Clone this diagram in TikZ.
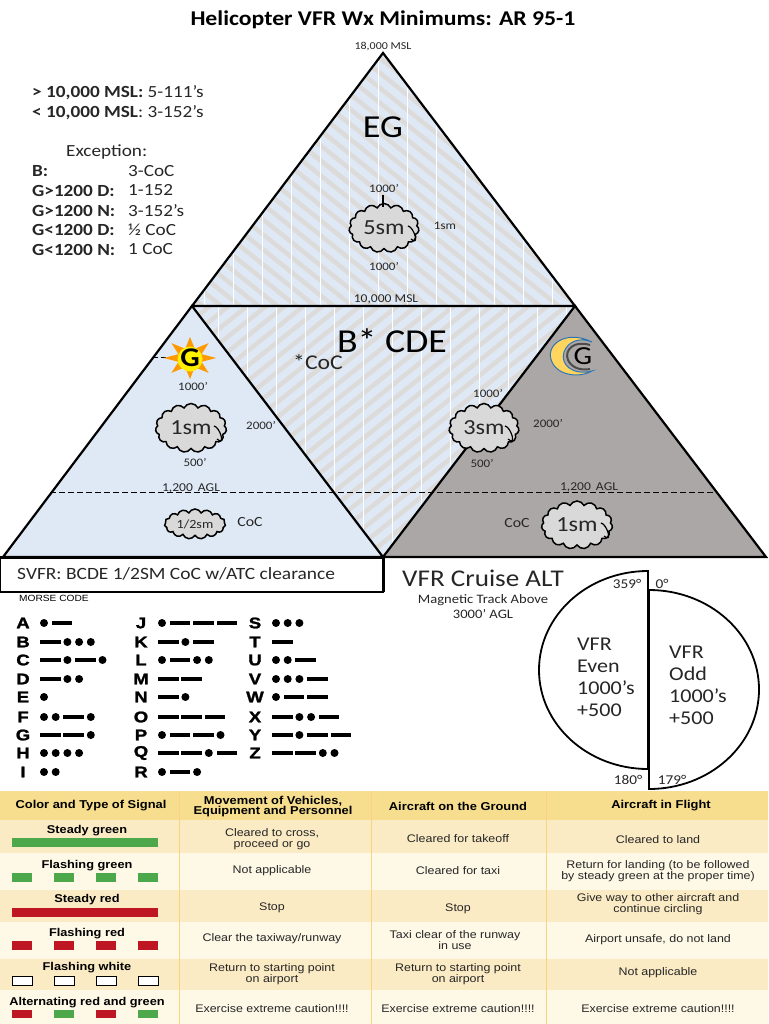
\documentclass[tikz,border=0pt]{standalone}
\usepackage{fontspec}
\setmainfont[FakeStretch=1.13]{Carlito}
\newfontfamily\tablefont[FakeStretch=1.13]{Liberation Sans}
\newfontfamily\morsefont[BoldFeatures={FakeStretch=1.2,FakeBold=1.5}]{Liberation Sans}
\usetikzlibrary{shapes.geometric,shapes.symbols}
\definecolor{skyfill}{HTML}{DEE9F5}
\definecolor{stripe}{HTML}{DCDBDA}
\definecolor{nightfill}{HTML}{ABA7A6}
\definecolor{cloudfill}{HTML}{D9D9D9}
\definecolor{headfill}{HTML}{F6DE8E}
\definecolor{rowdark}{HTML}{FBEBC5}
\definecolor{rowlight}{HTML}{FEF8E6}
\definecolor{sigred}{HTML}{BE1622}
\definecolor{siggreen}{HTML}{4CA84A}
\definecolor{moonblue}{HTML}{2F75B5}
\definecolor{moonyellow}{HTML}{FFD55F}
\newcommand{\morsecode}[4]{%
  \node[morse] (m#3) at (#1-17,#2) {#3};
  \global\def\mx{#1}
  \foreach \sym in {#4}{
    \ifnum\sym=1
      \fill (\mx+4,#2) circle (4);
    \else
      \fill (\mx,#2-2.2) rectangle (\mx+20.5,#2+2.2);
    \fi
    \pgfmathsetmacro\nx{\mx+\sym*11.7}
    \global\let\mx\nx
  }
}
\begin{document}
\begin{tikzpicture}[
    x=1pt, y=-1pt,
    tri/.style={draw=black, line width=2.2pt, line join=miter},
    altline/.style={draw=black, dash pattern=on 6pt off 3pt, line width=0.8pt},
    title/.style={font=\fontsize{21}{24}\selectfont\bfseries},
    big/.style={font=\fontsize{32}{36}\selectfont},
    lab/.style={font=\fontsize{11.5}{14}\selectfont, text=black!85},
    degree/.style={font=\fontsize{13.5}{16}\selectfont, text=black!85},
    listing/.style={font=\fontsize{17}{18}\selectfont, text=black!85, anchor=west, inner sep=0pt},
    vfr/.style={font=\fontsize{19.5}{22}\selectfont, text=black!85, anchor=north west, align=left, inner sep=0pt},
    puffy/.style={cloud, cloud puffs=15, cloud puff arc=130, cloud ignores aspect, draw=black, fill=cloudfill,
      line width=1.5pt, inner sep=0pt, font=\fontsize{21.5}{22}\selectfont, text=black!85},
    puffline/.style={draw=black, line width=1.2pt},
    morse/.style={font=\morsefont\fontsize{15.5}{18}\selectfont\bfseries, inner sep=0pt},
    cell/.style={font=\tablefont\fontsize{11}{10.5}\selectfont, align=center, inner sep=0pt, text=black!85},
    headcell/.style={cell, font=\tablefont\fontsize{11.4}{10.5}\selectfont\bfseries, text=black},
    sigcell/.style={cell, font=\tablefont\fontsize{11.3}{13}\selectfont\bfseries, text=black}
  ]
    \useasboundingbox (0,0) rectangle (768,1024);
    \coordinate (apex) at (383,53);
    \coordinate (midl) at (192,306);
    \coordinate (midr) at (575,306);
    \coordinate (basel) at (3,557);
    \coordinate (basem) at (383,557);
    \coordinate (baser) at (766,557);

    \begin{scope}
      \clip (apex) -- (midl) -- (midr) -- cycle;
      \fill[skyfill] (180,40) rectangle (590,310);
      \foreach \i in {0,...,40} {
        \draw[stripe, line width=4.5pt] (170,40+\i*15) -- ++(400,320);
        \draw[stripe, line width=4.5pt] (170+\i*18.75,40) -- ++(400,320);
      }
      \foreach \i in {0,...,14} {
        \draw[white, line width=0.6pt] (175.7+\i*29,40) -- ++(0,280);
      }
    \end{scope}
    \begin{scope}
      \clip (midl) -- (midr) -- (basem) -- cycle;
      \fill[skyfill] (180,300) rectangle (590,560);
      \foreach \i in {0,...,50} {
        \draw[stripe, line width=4.5pt] (180+\i*18.75,300) -- ++(-400,320);
      }
      \foreach \i in {0,...,14} {
        \draw[white, line width=0.6pt] (189.7+\i*29,300) -- ++(0,270);
      }
    \end{scope}
    \fill[skyfill] (midl) -- (basem) -- (basel) -- cycle;
    \fill[nightfill] (midr) -- (baser) -- (basem) -- cycle;
    \draw[altline] (50,492) -- (717,492);
    \draw[tri] (midl) -- (apex) -- (midr) -- cycle;
    \draw[tri] (midl) -- (basem) -- (basel) -- cycle;
    \draw[tri] (midr) -- (baser) -- (basem) -- cycle;

    \node[title] (heading) at (383,20) {Helicopter VFR Wx Minimums: AR 95-1};
    \node[lab, font=\fontsize{10.6}{14}\selectfont] (topalt) at (383,47) {18,000 MSL};
    \node[listing] (over) at (32,92.5) {\textbf{> 10,000 MSL:} 5-111’s};
    \node[listing] (under) at (32,112.5) {\textbf{< 10,000 MSL}: 3-152’s};
    \node[listing] (except) at (66,151.5) {Exception:};
    \foreach \n/\ly/\lname/\lval in {a/171/B:/3-CoC, b/190.5/G>1200 D:/1-152, c/210.5/G>1200 N:/3-152’s,
        d/230/G<1200 D:/½ CoC, e/249.5/G<1200 N:/1 CoC} {
      \node[listing, font=\fontsize{17}{18}\selectfont\bfseries] (key\n) at (32,\ly) {\lname};
      \node[listing] (val\n) at (128,\ly) {\lval};
    }

    \node[big] (eg) at (383,127) {EG};
    \node[big, font=\fontsize{33.5}{36}\selectfont] (cde) at (392,341) {B* CDE};
    \node[font=\fontsize{21}{22}\selectfont, text=black!85] (coc) at (318,362) {*CoC};
    \node[lab, font=\fontsize{12}{14}\selectfont] (midalt) at (386,299.5) {10,000 MSL};

    \node[puffy, minimum width=70pt, minimum height=49pt] (cfive) at (384,228) {5sm};
    \draw[puffline] (383,195) -- (383,207);
    \node[lab] (ea) at (384,188) {1000’};
    \node[lab] (eb) at (384,266) {1000’};
    \node[lab] (ec) at (445,226) {1sm};

    \draw[altline] (152,357) -- (166,357);
    \node[star, star points=8, star point ratio=2.1, minimum size=42pt, fill=orange!80!yellow,
      inner sep=0pt, xscale=1.25] (sun) at (190,358) {};
    \node[circle, fill=yellow, minimum size=25pt, inner sep=0pt] (disc) at (190,359) {};
    \node[font=\fontsize{27}{32}\selectfont\bfseries] (gday) at (190,358) {G};
    \node[lab] (la) at (193,386) {1000’};
    \node[puffy, minimum width=71pt, minimum height=49pt] (cone) at (191,428) {1sm};
    \node[lab] (lb) at (261,425) {2000’};
    \node[lab] (lc) at (195,462) {500’};
    \node[lab, font=\fontsize{12}{14}\selectfont] (ld) at (191,488.5) {1,200\,  AGL};
    \node[puffy, minimum width=61pt, minimum height=30pt, font=\fontsize{12.5}{15}\selectfont] (chalf) at (195,524) {1/2sm};
    \node[font=\fontsize{14}{16}\selectfont, text=black!85] (le) at (250,522) {CoC};

    \draw[moonblue, fill=moonyellow, line width=1pt] (592,342) .. controls (566,329) and (544,345) .. (552,362)
      .. controls (558,376) and (580,378) .. (592,371) .. controls (572,376) and (560,364) .. (564,352)
      .. controls (568,341) and (580,337) .. (592,342) -- cycle;
    \draw[black!70, line width=2pt] (590,345) .. controls (574,340) and (564,350) .. (568,360)
      .. controls (571,367) and (580,371) .. (590,369);
    \node[font=\fontsize{26}{32}\selectfont] (gnight) at (583,356) {G};
    \node[lab] (ra) at (488,393) {1000’};
    \node[puffy, minimum width=70pt, minimum height=49pt] (cthree) at (484,428) {3sm};
    \node[lab] (rb) at (548,423) {2000’};
    \node[lab] (rc) at (482,463) {500’};
    \node[lab, font=\fontsize{12}{14}\selectfont] (rd) at (589,487.5) {1,200\,  AGL};
    \node[font=\fontsize{14}{16}\selectfont, text=black!85] (re) at (517,523) {CoC};
    \node[puffy, minimum width=71pt, minimum height=48pt] (cmin) at (577,525) {1sm};
    \foreach \c/\dx in {cfive/24, cone/23, cthree/21, cmin/24} {
      \draw[puffline] (\c.center) ++(\dx,-2) .. controls ++(6,1) and ++(9,8) .. ++(3,13);
    }

    \draw[black, line width=1.2pt] (basel) ++(-3,0) rectangle (383,592);
    \draw[black, line width=3pt] (0,557) -- (383,557) -- (383,592);
    \node[font=\fontsize{17.2}{20}\selectfont, text=black!85, anchor=west, inner sep=0pt] (svfr) at (17,574)
      {SVFR: BCDE 1/2SM CoC w/ATC clearance};

    \node[font=\fontsize{24}{26}\selectfont, text=black!85] (cruise) at (483,578) {VFR Cruise ALT};
    \node[lab, align=center, font=\fontsize{12.9}{15}\selectfont] (track) at (483,606.5) {Magnetic Track Above\\3000’ AGL};
    \draw[black, line width=1.8pt, fill=white] (648,571) arc[start angle=-90, end angle=-270, x radius=109, y radius=99] -- cycle;
    \draw[black, line width=1.8pt, fill=white] (649,590) arc[start angle=-90, end angle=90, x radius=110, y radius=99.5] -- cycle;
    \node[degree] (dega) at (627,584) {359°};
    \node[degree] (degb) at (662,584) {0°};
    \node[degree] (degc) at (628,780) {180°};
    \node[degree] (degd) at (672,780) {179°};
    \node[vfr] (even) at (577,638) {VFR\\Even\\1000’s\\+500};
    \node[vfr] (odd) at (669,646) {VFR\\Odd\\1000’s\\+500};

    \node[font=\tablefont\fontsize{9}{11}\selectfont, anchor=west, inner sep=0pt] (morsehead) at (19,598) {MORSE CODE};
    \morsecode{40}{623}{A}{1,2}
    \morsecode{40}{642}{B}{2,1,1,1}
    \morsecode{40}{660}{C}{2,1,2,1}
    \morsecode{40}{679}{D}{2,1,1}
    \morsecode{40}{697}{E}{1}
    \morsecode{40}{717}{F}{1,1,2,1}
    \morsecode{40}{735}{G}{2,2,1}
    \morsecode{40}{753}{H}{1,1,1,1}
    \morsecode{40}{772}{I}{1,1}
    \morsecode{158}{623}{J}{1,2,2,2}
    \morsecode{158}{642}{K}{2,1,2}
    \morsecode{158}{660}{L}{1,2,1,1}
    \morsecode{158}{679}{M}{2,2}
    \morsecode{158}{697}{N}{2,1}
    \morsecode{158}{717}{O}{2,2,2}
    \morsecode{158}{735}{P}{1,2,2,1}
    \morsecode{158}{753}{Q}{2,2,1,2}
    \morsecode{158}{772}{R}{1,2,1}
    \morsecode{272}{623}{S}{1,1,1}
    \morsecode{272}{642}{T}{2}
    \morsecode{272}{660}{U}{1,1,2}
    \morsecode{272}{679}{V}{1,1,1,2}
    \morsecode{272}{697}{W}{1,2,2}
    \morsecode{272}{717}{X}{2,1,1,2}
    \morsecode{272}{735}{Y}{2,1,2,2}
    \morsecode{272}{753}{Z}{2,2,1,1}

    \fill[headfill] (0,791) rectangle (768,820);
    \fill[rowdark] (0,820) rectangle (768,853);
    \fill[rowlight] (0,853) rectangle (768,890);
    \fill[rowdark] (0,890) rectangle (768,922);
    \fill[rowlight] (0,922) rectangle (768,959);
    \fill[rowdark] (0,959) rectangle (768,990);
    \fill[rowlight] (0,990) rectangle (768,1024);
    \foreach \cx in {179,371,546} {
      \draw[headfill!90!orange, line width=1pt] (\cx,791) -- (\cx,1024);
    }

    \node[headcell] (ha) at (91,806) {Color and Type of Signal};
    \node[headcell] (hb) at (273,806.5) {Movement of Vehicles,\\Equipment and Personnel};
    \node[headcell] (hc) at (458,806) {Aircraft on the Ground};
    \node[headcell] (hd) at (661,806) {Aircraft in Flight};

    \foreach \n/\ly/\ltext in {a/831/Steady green, b/866/Flashing green, c/900/Steady red,
        d/934/Flashing red, e/968/Flashing white, f/1003/Alternating red and green} {
      \node[sigcell] (sig\n) at (87,\ly) {\ltext};
    }
    \foreach \n/\ly/\ltext in {a/839/{Cleared to cross,\\proceed or go}, b/871/Not applicable, c/908/Stop,
        d/939/{Clear the taxiway/runway}, e/974/{Return to starting point\\on airport}, f/1009/Exercise extreme caution!!!!} {
      \node[cell] (veh\n) at (272,\ly) {\ltext};
    }
    \foreach \n/\lx/\ly/\ltext in {a/458/839/Cleared for takeoff, b/458/871/Cleared for taxi, c/458/909/Stop,
        d/455/940/{Taxi clear of the runway\\in use}, e/458/974/{Return to starting point\\on airport},
        f/458/1009/Exercise extreme caution!!!!} {
      \node[cell] (gnd\n) at (\lx,\ly) {\ltext};
    }
    \foreach \n/\ly/\ltext in {a/840/Cleared to land, b/871/{Return for landing (to be followed\\by steady green at the proper time)},
        c/904/{Give way to other aircraft and\\continue circling}, d/940/{Airport unsafe, do not land},
        e/973/Not applicable, f/1009/Exercise extreme caution!!!!} {
      \node[cell] (air\n) at (658,\ly) {\ltext};
    }

    \fill[siggreen] (12,838) rectangle (158,847);
    \fill[sigred] (12,908) rectangle (158,917);
    \foreach \sx in {12,54,96,138} {
      \fill[siggreen] (\sx,873) rectangle ++(20,9);
      \fill[sigred] (\sx,941) rectangle ++(20,9);
      \draw[black, fill=white, line width=0.9pt] (\sx,976) rectangle ++(20,9);
    }
    \foreach \sx/\scol in {12/sigred,54/siggreen,96/sigred,138/siggreen} {
      \fill[\scol] (\sx,1010) rectangle ++(20,8);
    }
  \end{tikzpicture}
\end{document}
